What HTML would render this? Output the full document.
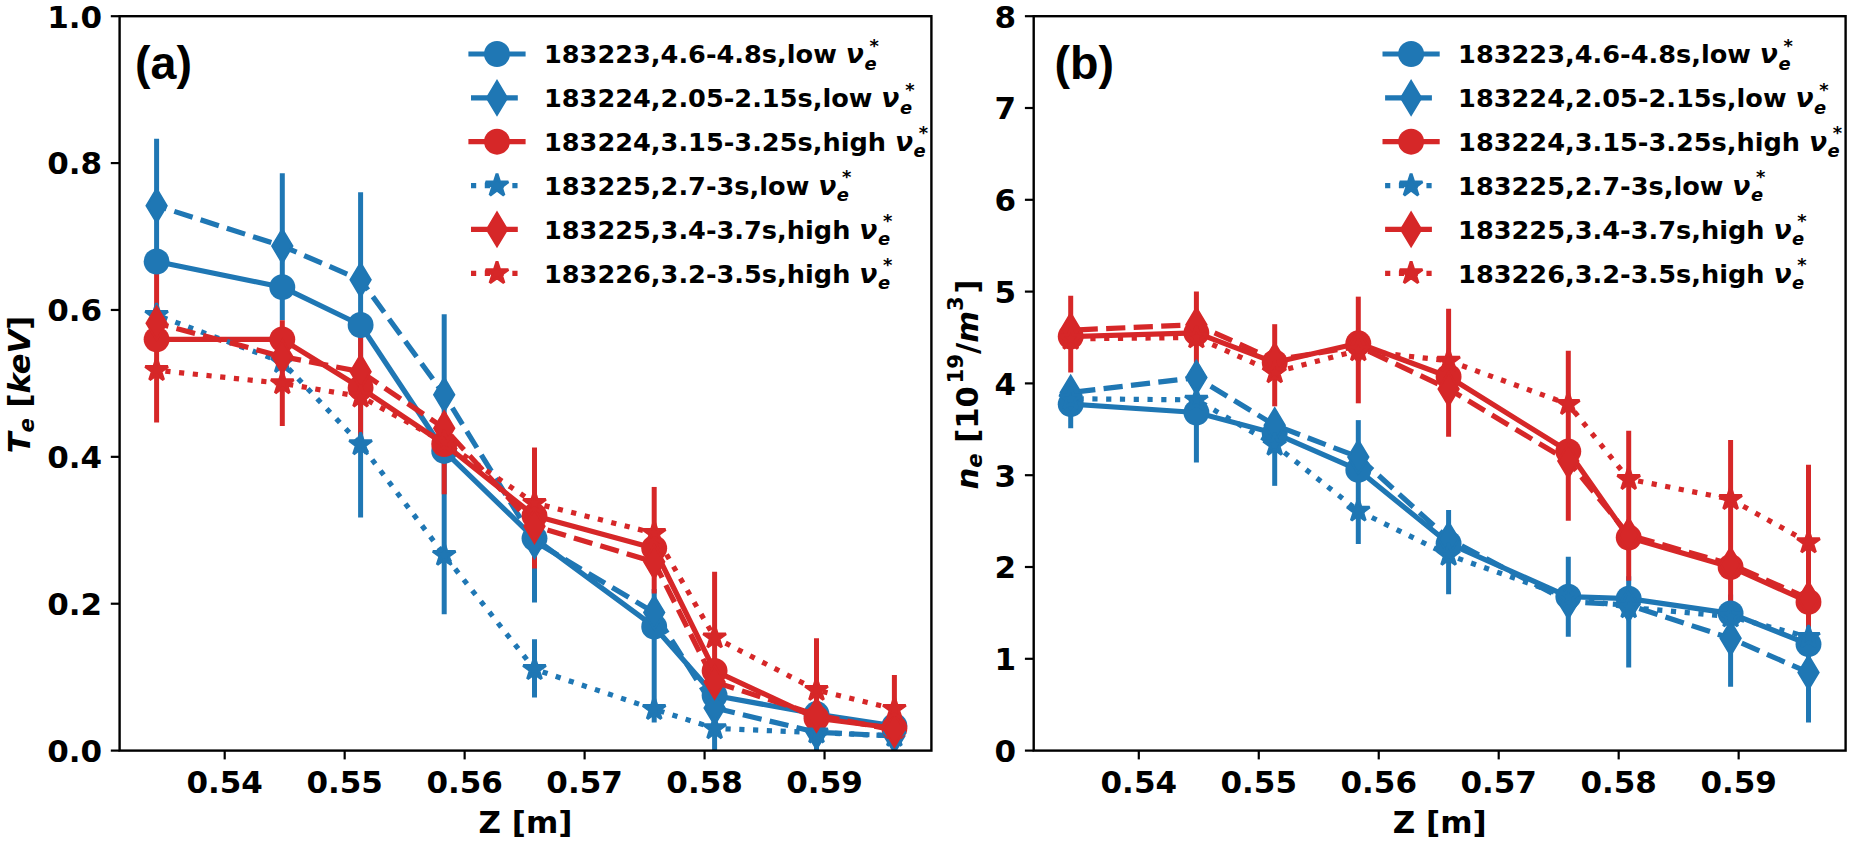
<!DOCTYPE html>
<html><head><meta charset="utf-8"><title>Te and ne profiles</title>
<style>html,body{margin:0;padding:0;background:#fff}svg{display:block}</style></head>
<body>
<svg width="1851" height="841" viewBox="0 0 1851 841">
<defs><clipPath id="cl"><rect x="119.6" y="16.2" width="811.80" height="734.40"/></clipPath><clipPath id="cr"><rect x="1033.7" y="16.2" width="811.90" height="734.40"/></clipPath></defs>
<rect width="1851" height="841" fill="#fff"/>
<g clip-path="url(#cl)">
<line x1="156.60" x2="156.60" y1="138.84" y2="272.51" stroke="#1f77b4" stroke-width="5.0"/>
<line x1="156.60" x2="156.60" y1="256.35" y2="422.47" stroke="#d62728" stroke-width="5.0"/>
<line x1="282.30" x2="282.30" y1="173.36" y2="320.24" stroke="#1f77b4" stroke-width="5.0"/>
<line x1="282.30" x2="282.30" y1="320.24" y2="426.00" stroke="#d62728" stroke-width="5.0"/>
<line x1="360.60" x2="360.60" y1="192.24" y2="517.50" stroke="#1f77b4" stroke-width="5.0"/>
<line x1="360.60" x2="360.60" y1="328.32" y2="442.15" stroke="#d62728" stroke-width="5.0"/>
<line x1="444.20" x2="444.20" y1="314.37" y2="614.22" stroke="#1f77b4" stroke-width="5.0"/>
<line x1="444.20" x2="444.20" y1="412.78" y2="494.29" stroke="#d62728" stroke-width="5.0"/>
<line x1="534.50" x2="534.50" y1="530.28" y2="602.47" stroke="#1f77b4" stroke-width="5.0"/>
<line x1="534.50" x2="534.50" y1="447.51" y2="568.47" stroke="#d62728" stroke-width="5.0"/>
<line x1="534.50" x2="534.50" y1="639.19" y2="697.50" stroke="#1f77b4" stroke-width="5.0"/>
<line x1="654.20" x2="654.20" y1="589.03" y2="722.47" stroke="#1f77b4" stroke-width="5.0"/>
<line x1="654.20" x2="654.20" y1="486.95" y2="593.44" stroke="#d62728" stroke-width="5.0"/>
<line x1="714.60" x2="714.60" y1="677.16" y2="757.94" stroke="#1f77b4" stroke-width="5.0"/>
<line x1="714.60" x2="714.60" y1="571.70" y2="684.50" stroke="#d62728" stroke-width="5.0"/>
<line x1="816.50" x2="816.50" y1="706.54" y2="757.94" stroke="#1f77b4" stroke-width="5.0"/>
<line x1="816.50" x2="816.50" y1="638.24" y2="721.22" stroke="#d62728" stroke-width="5.0"/>
<line x1="894.40" x2="894.40" y1="713.88" y2="757.94" stroke="#1f77b4" stroke-width="5.0"/>
<line x1="894.40" x2="894.40" y1="674.96" y2="728.57" stroke="#d62728" stroke-width="5.0"/>
<polyline points="156.60,261.49 282.30,287.19 360.60,325.02 444.20,450.96 534.50,538.36 654.20,626.71 714.60,695.52 816.50,714.03 894.40,725.85" fill="none" stroke="#1f77b4" stroke-width="5.2" stroke-linejoin="round" stroke-linecap="square"/>
<circle cx="156.60" cy="261.49" r="12.94" fill="#1f77b4"/>
<circle cx="282.30" cy="287.19" r="12.94" fill="#1f77b4"/>
<circle cx="360.60" cy="325.02" r="12.94" fill="#1f77b4"/>
<circle cx="444.20" cy="450.96" r="12.94" fill="#1f77b4"/>
<circle cx="534.50" cy="538.36" r="12.94" fill="#1f77b4"/>
<circle cx="654.20" cy="626.71" r="12.94" fill="#1f77b4"/>
<circle cx="714.60" cy="695.52" r="12.94" fill="#1f77b4"/>
<circle cx="816.50" cy="714.03" r="12.94" fill="#1f77b4"/>
<circle cx="894.40" cy="725.85" r="12.94" fill="#1f77b4"/>
<line x1="156.60" y1="205.68" x2="282.30" y2="246.07" stroke="#1f77b4" stroke-width="5.2" stroke-dasharray="19.24 8.32" stroke-dashoffset="8.96"/>
<line x1="282.30" y1="246.07" x2="360.60" y2="279.85" stroke="#1f77b4" stroke-width="5.2" stroke-dasharray="19.24 8.32" stroke-dashoffset="141.49"/>
<line x1="360.60" y1="279.85" x2="444.20" y2="394.64" stroke="#1f77b4" stroke-width="5.2" stroke-dasharray="19.24 8.32" stroke-dashoffset="227.27"/>
<line x1="444.20" y1="394.64" x2="534.50" y2="541.30" stroke="#1f77b4" stroke-width="5.2" stroke-dasharray="19.24 8.32" stroke-dashoffset="370.27"/>
<line x1="534.50" y1="541.30" x2="654.20" y2="612.53" stroke="#1f77b4" stroke-width="5.2" stroke-dasharray="19.24 8.32" stroke-dashoffset="543.50"/>
<line x1="654.20" y1="612.53" x2="714.60" y2="708.00" stroke="#1f77b4" stroke-width="5.2" stroke-dasharray="19.24 8.32" stroke-dashoffset="683.79"/>
<line x1="714.60" y1="708.00" x2="816.50" y2="732.24" stroke="#1f77b4" stroke-width="5.2" stroke-dasharray="19.24 8.32" stroke-dashoffset="797.77"/>
<line x1="816.50" y1="732.24" x2="894.40" y2="735.91" stroke="#1f77b4" stroke-width="5.2" stroke-dasharray="19.24 8.32" stroke-dashoffset="903.21"/>
<polygon points="156.60,188.85 166.70,205.68 156.60,222.50 146.50,205.68" fill="#1f77b4" stroke="#1f77b4" stroke-width="2.08" stroke-linejoin="miter" stroke-miterlimit="10"/>
<polygon points="282.30,229.24 292.40,246.07 282.30,262.90 272.20,246.07" fill="#1f77b4" stroke="#1f77b4" stroke-width="2.08" stroke-linejoin="miter" stroke-miterlimit="10"/>
<polygon points="360.60,263.02 370.70,279.85 360.60,296.68 350.50,279.85" fill="#1f77b4" stroke="#1f77b4" stroke-width="2.08" stroke-linejoin="miter" stroke-miterlimit="10"/>
<polygon points="444.20,377.81 454.30,394.64 444.20,411.47 434.10,394.64" fill="#1f77b4" stroke="#1f77b4" stroke-width="2.08" stroke-linejoin="miter" stroke-miterlimit="10"/>
<polygon points="534.50,524.47 544.60,541.30 534.50,558.13 524.40,541.30" fill="#1f77b4" stroke="#1f77b4" stroke-width="2.08" stroke-linejoin="miter" stroke-miterlimit="10"/>
<polygon points="654.20,595.70 664.30,612.53 654.20,629.36 644.10,612.53" fill="#1f77b4" stroke="#1f77b4" stroke-width="2.08" stroke-linejoin="miter" stroke-miterlimit="10"/>
<polygon points="714.60,691.18 724.70,708.00 714.60,724.83 704.50,708.00" fill="#1f77b4" stroke="#1f77b4" stroke-width="2.08" stroke-linejoin="miter" stroke-miterlimit="10"/>
<polygon points="816.50,715.41 826.60,732.24 816.50,749.07 806.40,732.24" fill="#1f77b4" stroke="#1f77b4" stroke-width="2.08" stroke-linejoin="miter" stroke-miterlimit="10"/>
<polygon points="894.40,719.08 904.50,735.91 894.40,752.74 884.30,735.91" fill="#1f77b4" stroke="#1f77b4" stroke-width="2.08" stroke-linejoin="miter" stroke-miterlimit="10"/>
<polyline points="156.60,339.34 282.30,339.34 360.60,387.81 444.20,443.99 534.50,515.81 654.20,548.27 714.60,670.84 816.50,718.29 894.40,728.20" fill="none" stroke="#d62728" stroke-width="5.2" stroke-linejoin="round" stroke-linecap="square"/>
<circle cx="156.60" cy="339.34" r="12.94" fill="#d62728"/>
<circle cx="282.30" cy="339.34" r="12.94" fill="#d62728"/>
<circle cx="360.60" cy="387.81" r="12.94" fill="#d62728"/>
<circle cx="444.20" cy="443.99" r="12.94" fill="#d62728"/>
<circle cx="534.50" cy="515.81" r="12.94" fill="#d62728"/>
<circle cx="654.20" cy="548.27" r="12.94" fill="#d62728"/>
<circle cx="714.60" cy="670.84" r="12.94" fill="#d62728"/>
<circle cx="816.50" cy="718.29" r="12.94" fill="#d62728"/>
<circle cx="894.40" cy="728.20" r="12.94" fill="#d62728"/>
<line x1="156.60" y1="315.10" x2="282.30" y2="362.10" stroke="#1f77b4" stroke-width="5.2" stroke-dasharray="5.20 8.58" stroke-dashoffset="7.60"/>
<line x1="282.30" y1="362.10" x2="360.60" y2="444.36" stroke="#1f77b4" stroke-width="5.2" stroke-dasharray="5.20 8.58" stroke-dashoffset="142.30"/>
<line x1="360.60" y1="444.36" x2="444.20" y2="555.03" stroke="#1f77b4" stroke-width="5.2" stroke-dasharray="5.20 8.58" stroke-dashoffset="256.36"/>
<line x1="444.20" y1="555.03" x2="534.50" y2="669.23" stroke="#1f77b4" stroke-width="5.2" stroke-dasharray="5.20 8.58" stroke-dashoffset="395.66"/>
<line x1="534.50" y1="669.23" x2="654.20" y2="709.18" stroke="#1f77b4" stroke-width="5.2" stroke-dasharray="5.20 8.58" stroke-dashoffset="542.65"/>
<line x1="654.20" y1="709.18" x2="714.60" y2="728.35" stroke="#1f77b4" stroke-width="5.2" stroke-dasharray="5.20 8.58" stroke-dashoffset="669.84"/>
<line x1="714.60" y1="728.35" x2="816.50" y2="732.61" stroke="#1f77b4" stroke-width="5.2" stroke-dasharray="5.20 8.58" stroke-dashoffset="733.21"/>
<line x1="816.50" y1="732.61" x2="894.40" y2="735.91" stroke="#1f77b4" stroke-width="5.2" stroke-dasharray="5.20 8.58" stroke-dashoffset="835.70"/>
<polygon points="156.60,303.20 153.93,311.42 145.28,311.42 152.28,316.51 149.61,324.73 156.60,319.65 163.59,324.73 160.92,316.51 167.92,311.42 159.27,311.42" fill="#1f77b4" stroke="#1f77b4" stroke-width="2.9" stroke-linejoin="bevel"/>
<polygon points="282.30,350.20 279.63,358.43 270.98,358.43 277.98,363.51 275.31,371.73 282.30,366.65 289.29,371.73 286.62,363.51 293.62,358.43 284.97,358.43" fill="#1f77b4" stroke="#1f77b4" stroke-width="2.9" stroke-linejoin="bevel"/>
<polygon points="360.60,432.46 357.93,440.68 349.28,440.68 356.28,445.76 353.61,453.98 360.60,448.90 367.59,453.98 364.92,445.76 371.92,440.68 363.27,440.68" fill="#1f77b4" stroke="#1f77b4" stroke-width="2.9" stroke-linejoin="bevel"/>
<polygon points="444.20,543.13 441.53,551.35 432.88,551.35 439.88,556.43 437.21,564.66 444.20,559.57 451.19,564.66 448.52,556.43 455.52,551.35 446.87,551.35" fill="#1f77b4" stroke="#1f77b4" stroke-width="2.9" stroke-linejoin="bevel"/>
<polygon points="534.50,657.33 531.83,665.55 523.18,665.55 530.18,670.63 527.51,678.86 534.50,673.77 541.49,678.86 538.82,670.63 545.82,665.55 537.17,665.55" fill="#1f77b4" stroke="#1f77b4" stroke-width="2.9" stroke-linejoin="bevel"/>
<polygon points="654.20,697.28 651.53,705.50 642.88,705.50 649.88,710.58 647.21,718.81 654.20,713.73 661.19,718.81 658.52,710.58 665.52,705.50 656.87,705.50" fill="#1f77b4" stroke="#1f77b4" stroke-width="2.9" stroke-linejoin="bevel"/>
<polygon points="714.60,716.45 711.93,724.67 703.28,724.67 710.28,729.75 707.61,737.97 714.60,732.89 721.59,737.97 718.92,729.75 725.92,724.67 717.27,724.67" fill="#1f77b4" stroke="#1f77b4" stroke-width="2.9" stroke-linejoin="bevel"/>
<polygon points="816.50,720.71 813.83,728.93 805.18,728.93 812.18,734.01 809.51,742.23 816.50,737.15 823.49,742.23 820.82,734.01 827.82,728.93 819.17,728.93" fill="#1f77b4" stroke="#1f77b4" stroke-width="2.9" stroke-linejoin="bevel"/>
<polygon points="894.40,724.01 891.73,732.23 883.08,732.23 890.08,737.32 887.41,745.54 894.40,740.46 901.39,745.54 898.72,737.32 905.72,732.23 897.07,732.23" fill="#1f77b4" stroke="#1f77b4" stroke-width="2.9" stroke-linejoin="bevel"/>
<line x1="156.60" y1="323.18" x2="282.30" y2="356.59" stroke="#d62728" stroke-width="5.2" stroke-dasharray="19.24 8.32" stroke-dashoffset="7.00"/>
<line x1="282.30" y1="356.59" x2="360.60" y2="371.65" stroke="#d62728" stroke-width="5.2" stroke-dasharray="19.24 8.32" stroke-dashoffset="138.07"/>
<line x1="360.60" y1="371.65" x2="444.20" y2="428.20" stroke="#d62728" stroke-width="5.2" stroke-dasharray="19.24 8.32" stroke-dashoffset="218.80"/>
<line x1="444.20" y1="428.20" x2="534.50" y2="526.17" stroke="#d62728" stroke-width="5.2" stroke-dasharray="19.24 8.32" stroke-dashoffset="320.73"/>
<line x1="534.50" y1="526.17" x2="654.20" y2="561.86" stroke="#d62728" stroke-width="5.2" stroke-dasharray="19.24 8.32" stroke-dashoffset="454.97"/>
<line x1="654.20" y1="561.86" x2="714.60" y2="682.01" stroke="#d62728" stroke-width="5.2" stroke-dasharray="19.24 8.32" stroke-dashoffset="580.37"/>
<line x1="714.60" y1="682.01" x2="816.50" y2="714.98" stroke="#d62728" stroke-width="5.2" stroke-dasharray="19.24 8.32" stroke-dashoffset="715.35"/>
<line x1="816.50" y1="714.98" x2="894.40" y2="730.04" stroke="#d62728" stroke-width="5.2" stroke-dasharray="19.24 8.32" stroke-dashoffset="822.95"/>
<polygon points="156.60,306.35 166.70,323.18 156.60,340.01 146.50,323.18" fill="#d62728" stroke="#d62728" stroke-width="2.08" stroke-linejoin="miter" stroke-miterlimit="10"/>
<polygon points="282.30,339.77 292.40,356.59 282.30,373.42 272.20,356.59" fill="#d62728" stroke="#d62728" stroke-width="2.08" stroke-linejoin="miter" stroke-miterlimit="10"/>
<polygon points="360.60,354.82 370.70,371.65 360.60,388.48 350.50,371.65" fill="#d62728" stroke="#d62728" stroke-width="2.08" stroke-linejoin="miter" stroke-miterlimit="10"/>
<polygon points="444.20,411.37 454.30,428.20 444.20,445.03 434.10,428.20" fill="#d62728" stroke="#d62728" stroke-width="2.08" stroke-linejoin="miter" stroke-miterlimit="10"/>
<polygon points="534.50,509.34 544.60,526.17 534.50,543.00 524.40,526.17" fill="#d62728" stroke="#d62728" stroke-width="2.08" stroke-linejoin="miter" stroke-miterlimit="10"/>
<polygon points="654.20,545.03 664.30,561.86 654.20,578.69 644.10,561.86" fill="#d62728" stroke="#d62728" stroke-width="2.08" stroke-linejoin="miter" stroke-miterlimit="10"/>
<polygon points="714.60,665.18 724.70,682.01 714.60,698.84 704.50,682.01" fill="#d62728" stroke="#d62728" stroke-width="2.08" stroke-linejoin="miter" stroke-miterlimit="10"/>
<polygon points="816.50,698.15 826.60,714.98 816.50,731.81 806.40,714.98" fill="#d62728" stroke="#d62728" stroke-width="2.08" stroke-linejoin="miter" stroke-miterlimit="10"/>
<polygon points="894.40,713.21 904.50,730.04 894.40,746.87 884.30,730.04" fill="#d62728" stroke="#d62728" stroke-width="2.08" stroke-linejoin="miter" stroke-miterlimit="10"/>
<line x1="156.60" y1="370.18" x2="282.30" y2="383.40" stroke="#d62728" stroke-width="5.2" stroke-dasharray="5.20 8.58" stroke-dashoffset="5.00"/>
<line x1="282.30" y1="383.40" x2="360.60" y2="396.62" stroke="#d62728" stroke-width="5.2" stroke-dasharray="5.20 8.58" stroke-dashoffset="131.89"/>
<line x1="360.60" y1="396.62" x2="444.20" y2="442.15" stroke="#d62728" stroke-width="5.2" stroke-dasharray="5.20 8.58" stroke-dashoffset="211.80"/>
<line x1="444.20" y1="442.15" x2="534.50" y2="503.11" stroke="#d62728" stroke-width="5.2" stroke-dasharray="5.20 8.58" stroke-dashoffset="307.50"/>
<line x1="534.50" y1="503.11" x2="654.20" y2="533.22" stroke="#d62728" stroke-width="5.2" stroke-dasharray="5.20 8.58" stroke-dashoffset="416.94"/>
<line x1="654.20" y1="533.22" x2="714.60" y2="637.50" stroke="#d62728" stroke-width="5.2" stroke-dasharray="5.20 8.58" stroke-dashoffset="540.37"/>
<line x1="714.60" y1="637.50" x2="816.50" y2="690.01" stroke="#d62728" stroke-width="5.2" stroke-dasharray="5.20 8.58" stroke-dashoffset="662.89"/>
<line x1="816.50" y1="690.01" x2="894.40" y2="709.03" stroke="#d62728" stroke-width="5.2" stroke-dasharray="5.20 8.58" stroke-dashoffset="779.32"/>
<polygon points="156.60,358.28 153.93,366.50 145.28,366.50 152.28,371.59 149.61,379.81 156.60,374.73 163.59,379.81 160.92,371.59 167.92,366.50 159.27,366.50" fill="#d62728" stroke="#d62728" stroke-width="2.9" stroke-linejoin="bevel"/>
<polygon points="282.30,371.50 279.63,379.72 270.98,379.72 277.98,384.80 275.31,393.03 282.30,387.95 289.29,393.03 286.62,384.80 293.62,379.72 284.97,379.72" fill="#d62728" stroke="#d62728" stroke-width="2.9" stroke-linejoin="bevel"/>
<polygon points="360.60,384.72 357.93,392.94 349.28,392.94 356.28,398.02 353.61,406.25 360.60,401.16 367.59,406.25 364.92,398.02 371.92,392.94 363.27,392.94" fill="#d62728" stroke="#d62728" stroke-width="2.9" stroke-linejoin="bevel"/>
<polygon points="444.20,430.25 441.53,438.47 432.88,438.47 439.88,443.56 437.21,451.78 444.20,446.70 451.19,451.78 448.52,443.56 455.52,438.47 446.87,438.47" fill="#d62728" stroke="#d62728" stroke-width="2.9" stroke-linejoin="bevel"/>
<polygon points="534.50,491.21 531.83,499.43 523.18,499.43 530.18,504.51 527.51,512.73 534.50,507.65 541.49,512.73 538.82,504.51 545.82,499.43 537.17,499.43" fill="#d62728" stroke="#d62728" stroke-width="2.9" stroke-linejoin="bevel"/>
<polygon points="654.20,521.32 651.53,529.54 642.88,529.54 649.88,534.62 647.21,542.84 654.20,537.76 661.19,542.84 658.52,534.62 665.52,529.54 656.87,529.54" fill="#d62728" stroke="#d62728" stroke-width="2.9" stroke-linejoin="bevel"/>
<polygon points="714.60,625.60 711.93,633.83 703.28,633.83 710.28,638.91 707.61,647.13 714.60,642.05 721.59,647.13 718.92,638.91 725.92,633.83 717.27,633.83" fill="#d62728" stroke="#d62728" stroke-width="2.9" stroke-linejoin="bevel"/>
<polygon points="816.50,678.11 813.83,686.33 805.18,686.33 812.18,691.42 809.51,699.64 816.50,694.56 823.49,699.64 820.82,691.42 827.82,686.33 819.17,686.33" fill="#d62728" stroke="#d62728" stroke-width="2.9" stroke-linejoin="bevel"/>
<polygon points="894.40,697.13 891.73,705.36 883.08,705.36 890.08,710.44 887.41,718.66 894.40,713.58 901.39,718.66 898.72,710.44 905.72,705.36 897.07,705.36" fill="#d62728" stroke="#d62728" stroke-width="2.9" stroke-linejoin="bevel"/>
</g>
<g clip-path="url(#cr)">
<line x1="1070.70" x2="1070.70" y1="383.40" y2="428.29" stroke="#1f77b4" stroke-width="5.0"/>
<line x1="1070.70" x2="1070.70" y1="295.82" y2="372.38" stroke="#d62728" stroke-width="5.0"/>
<line x1="1196.40" x2="1196.40" y1="365.04" y2="462.53" stroke="#1f77b4" stroke-width="5.0"/>
<line x1="1196.40" x2="1196.40" y1="291.60" y2="374.22" stroke="#d62728" stroke-width="5.0"/>
<line x1="1274.70" x2="1274.70" y1="410.94" y2="485.85" stroke="#1f77b4" stroke-width="5.0"/>
<line x1="1274.70" x2="1274.70" y1="324.19" y2="406.35" stroke="#d62728" stroke-width="5.0"/>
<line x1="1358.30" x2="1358.30" y1="420.12" y2="544.05" stroke="#1f77b4" stroke-width="5.0"/>
<line x1="1358.30" x2="1358.30" y1="296.65" y2="403.32" stroke="#d62728" stroke-width="5.0"/>
<line x1="1448.60" x2="1448.60" y1="510.08" y2="594.17" stroke="#1f77b4" stroke-width="5.0"/>
<line x1="1448.60" x2="1448.60" y1="308.67" y2="436.64" stroke="#d62728" stroke-width="5.0"/>
<line x1="1568.30" x2="1568.30" y1="556.63" y2="636.68" stroke="#1f77b4" stroke-width="5.0"/>
<line x1="1568.30" x2="1568.30" y1="350.81" y2="520.82" stroke="#d62728" stroke-width="5.0"/>
<line x1="1628.70" x2="1628.70" y1="576.18" y2="667.52" stroke="#1f77b4" stroke-width="5.0"/>
<line x1="1628.70" x2="1628.70" y1="430.86" y2="580.77" stroke="#d62728" stroke-width="5.0"/>
<line x1="1730.60" x2="1730.60" y1="594.54" y2="686.71" stroke="#1f77b4" stroke-width="5.0"/>
<line x1="1730.60" x2="1730.60" y1="440.04" y2="600.97" stroke="#d62728" stroke-width="5.0"/>
<line x1="1808.50" x2="1808.50" y1="622.08" y2="722.51" stroke="#1f77b4" stroke-width="5.0"/>
<line x1="1808.50" x2="1808.50" y1="464.64" y2="626.67" stroke="#d62728" stroke-width="5.0"/>
<polyline points="1070.70,404.15 1196.40,412.50 1274.70,433.34 1358.30,469.97 1448.60,543.32 1568.30,596.65 1628.70,598.67 1730.60,613.36 1808.50,644.20" fill="none" stroke="#1f77b4" stroke-width="5.2" stroke-linejoin="round" stroke-linecap="square"/>
<circle cx="1070.70" cy="404.15" r="12.94" fill="#1f77b4"/>
<circle cx="1196.40" cy="412.50" r="12.94" fill="#1f77b4"/>
<circle cx="1274.70" cy="433.34" r="12.94" fill="#1f77b4"/>
<circle cx="1358.30" cy="469.97" r="12.94" fill="#1f77b4"/>
<circle cx="1448.60" cy="543.32" r="12.94" fill="#1f77b4"/>
<circle cx="1568.30" cy="596.65" r="12.94" fill="#1f77b4"/>
<circle cx="1628.70" cy="598.67" r="12.94" fill="#1f77b4"/>
<circle cx="1730.60" cy="613.36" r="12.94" fill="#1f77b4"/>
<circle cx="1808.50" cy="644.20" r="12.94" fill="#1f77b4"/>
<line x1="1070.70" y1="392.58" x2="1196.40" y2="377.52" stroke="#1f77b4" stroke-width="5.2" stroke-dasharray="19.24 8.32" stroke-dashoffset="22.00"/>
<line x1="1196.40" y1="377.52" x2="1274.70" y2="425.17" stroke="#1f77b4" stroke-width="5.2" stroke-dasharray="19.24 8.32" stroke-dashoffset="148.60"/>
<line x1="1274.70" y1="425.17" x2="1358.30" y2="457.02" stroke="#1f77b4" stroke-width="5.2" stroke-dasharray="19.24 8.32" stroke-dashoffset="240.25"/>
<line x1="1358.30" y1="457.02" x2="1448.60" y2="539.00" stroke="#1f77b4" stroke-width="5.2" stroke-dasharray="19.24 8.32" stroke-dashoffset="330.72"/>
<line x1="1448.60" y1="539.00" x2="1568.30" y2="601.70" stroke="#1f77b4" stroke-width="5.2" stroke-dasharray="19.24 8.32" stroke-dashoffset="453.68"/>
<line x1="1568.30" y1="601.70" x2="1628.70" y2="605.01" stroke="#1f77b4" stroke-width="5.2" stroke-dasharray="19.24 8.32" stroke-dashoffset="589.31"/>
<line x1="1628.70" y1="605.01" x2="1730.60" y2="638.33" stroke="#1f77b4" stroke-width="5.2" stroke-dasharray="19.24 8.32" stroke-dashoffset="650.30"/>
<line x1="1730.60" y1="638.33" x2="1808.50" y2="672.48" stroke="#1f77b4" stroke-width="5.2" stroke-dasharray="19.24 8.32" stroke-dashoffset="759.51"/>
<polygon points="1070.70,375.75 1080.80,392.58 1070.70,409.41 1060.60,392.58" fill="#1f77b4" stroke="#1f77b4" stroke-width="2.08" stroke-linejoin="miter" stroke-miterlimit="10"/>
<polygon points="1196.40,360.70 1206.50,377.52 1196.40,394.35 1186.30,377.52" fill="#1f77b4" stroke="#1f77b4" stroke-width="2.08" stroke-linejoin="miter" stroke-miterlimit="10"/>
<polygon points="1274.70,408.34 1284.80,425.17 1274.70,442.00 1264.60,425.17" fill="#1f77b4" stroke="#1f77b4" stroke-width="2.08" stroke-linejoin="miter" stroke-miterlimit="10"/>
<polygon points="1358.30,440.19 1368.40,457.02 1358.30,473.85 1348.20,457.02" fill="#1f77b4" stroke="#1f77b4" stroke-width="2.08" stroke-linejoin="miter" stroke-miterlimit="10"/>
<polygon points="1448.60,522.17 1458.70,539.00 1448.60,555.83 1438.50,539.00" fill="#1f77b4" stroke="#1f77b4" stroke-width="2.08" stroke-linejoin="miter" stroke-miterlimit="10"/>
<polygon points="1568.30,584.87 1578.40,601.70 1568.30,618.53 1558.20,601.70" fill="#1f77b4" stroke="#1f77b4" stroke-width="2.08" stroke-linejoin="miter" stroke-miterlimit="10"/>
<polygon points="1628.70,588.18 1638.80,605.01 1628.70,621.83 1618.60,605.01" fill="#1f77b4" stroke="#1f77b4" stroke-width="2.08" stroke-linejoin="miter" stroke-miterlimit="10"/>
<polygon points="1730.60,621.50 1740.70,638.33 1730.60,655.16 1720.50,638.33" fill="#1f77b4" stroke="#1f77b4" stroke-width="2.08" stroke-linejoin="miter" stroke-miterlimit="10"/>
<polygon points="1808.50,655.65 1818.60,672.48 1808.50,689.31 1798.40,672.48" fill="#1f77b4" stroke="#1f77b4" stroke-width="2.08" stroke-linejoin="miter" stroke-miterlimit="10"/>
<polyline points="1070.70,336.58 1196.40,332.91 1274.70,362.47 1358.30,343.28 1448.60,376.70 1568.30,451.33 1628.70,537.53 1730.60,567.00 1808.50,601.88" fill="none" stroke="#d62728" stroke-width="5.2" stroke-linejoin="round" stroke-linecap="square"/>
<circle cx="1070.70" cy="336.58" r="12.94" fill="#d62728"/>
<circle cx="1196.40" cy="332.91" r="12.94" fill="#d62728"/>
<circle cx="1274.70" cy="362.47" r="12.94" fill="#d62728"/>
<circle cx="1358.30" cy="343.28" r="12.94" fill="#d62728"/>
<circle cx="1448.60" cy="376.70" r="12.94" fill="#d62728"/>
<circle cx="1568.30" cy="451.33" r="12.94" fill="#d62728"/>
<circle cx="1628.70" cy="537.53" r="12.94" fill="#d62728"/>
<circle cx="1730.60" cy="567.00" r="12.94" fill="#d62728"/>
<circle cx="1808.50" cy="601.88" r="12.94" fill="#d62728"/>
<line x1="1070.70" y1="398.73" x2="1196.40" y2="399.92" stroke="#1f77b4" stroke-width="5.2" stroke-dasharray="5.20 8.58" stroke-dashoffset="5.90"/>
<line x1="1196.40" y1="399.92" x2="1274.70" y2="444.91" stroke="#1f77b4" stroke-width="5.2" stroke-dasharray="5.20 8.58" stroke-dashoffset="131.61"/>
<line x1="1274.70" y1="444.91" x2="1358.30" y2="510.82" stroke="#1f77b4" stroke-width="5.2" stroke-dasharray="5.20 8.58" stroke-dashoffset="221.91"/>
<line x1="1358.30" y1="510.82" x2="1448.60" y2="555.07" stroke="#1f77b4" stroke-width="5.2" stroke-dasharray="5.20 8.58" stroke-dashoffset="329.37"/>
<line x1="1448.60" y1="555.07" x2="1568.30" y2="597.11" stroke="#1f77b4" stroke-width="5.2" stroke-dasharray="5.20 8.58" stroke-dashoffset="430.92"/>
<line x1="1568.30" y1="597.11" x2="1628.70" y2="607.39" stroke="#1f77b4" stroke-width="5.2" stroke-dasharray="5.20 8.58" stroke-dashoffset="557.79"/>
<line x1="1628.70" y1="607.39" x2="1730.60" y2="616.57" stroke="#1f77b4" stroke-width="5.2" stroke-dasharray="5.20 8.58" stroke-dashoffset="619.06"/>
<line x1="1730.60" y1="616.57" x2="1808.50" y2="637.04" stroke="#1f77b4" stroke-width="5.2" stroke-dasharray="5.20 8.58" stroke-dashoffset="721.37"/>
<polygon points="1070.70,386.83 1068.03,395.05 1059.38,395.05 1066.38,400.14 1063.71,408.36 1070.70,403.28 1077.69,408.36 1075.02,400.14 1082.02,395.05 1073.37,395.05" fill="#1f77b4" stroke="#1f77b4" stroke-width="2.9" stroke-linejoin="bevel"/>
<polygon points="1196.40,388.02 1193.73,396.25 1185.08,396.25 1192.08,401.33 1189.41,409.55 1196.40,404.47 1203.39,409.55 1200.72,401.33 1207.72,396.25 1199.07,396.25" fill="#1f77b4" stroke="#1f77b4" stroke-width="2.9" stroke-linejoin="bevel"/>
<polygon points="1274.70,433.01 1272.03,441.23 1263.38,441.23 1270.38,446.31 1267.71,454.53 1274.70,449.45 1281.69,454.53 1279.02,446.31 1286.02,441.23 1277.37,441.23" fill="#1f77b4" stroke="#1f77b4" stroke-width="2.9" stroke-linejoin="bevel"/>
<polygon points="1358.30,498.92 1355.63,507.14 1346.98,507.14 1353.98,512.22 1351.31,520.45 1358.30,515.36 1365.29,520.45 1362.62,512.22 1369.62,507.14 1360.97,507.14" fill="#1f77b4" stroke="#1f77b4" stroke-width="2.9" stroke-linejoin="bevel"/>
<polygon points="1448.60,543.17 1445.93,551.39 1437.28,551.39 1444.28,556.47 1441.61,564.69 1448.60,559.61 1455.59,564.69 1452.92,556.47 1459.92,551.39 1451.27,551.39" fill="#1f77b4" stroke="#1f77b4" stroke-width="2.9" stroke-linejoin="bevel"/>
<polygon points="1568.30,585.21 1565.63,593.43 1556.98,593.43 1563.98,598.52 1561.31,606.74 1568.30,601.66 1575.29,606.74 1572.62,598.52 1579.62,593.43 1570.97,593.43" fill="#1f77b4" stroke="#1f77b4" stroke-width="2.9" stroke-linejoin="bevel"/>
<polygon points="1628.70,595.49 1626.03,603.71 1617.38,603.71 1624.38,608.80 1621.71,617.02 1628.70,611.94 1635.69,617.02 1633.02,608.80 1640.02,603.71 1631.37,603.71" fill="#1f77b4" stroke="#1f77b4" stroke-width="2.9" stroke-linejoin="bevel"/>
<polygon points="1730.60,604.67 1727.93,612.89 1719.28,612.89 1726.28,617.98 1723.61,626.20 1730.60,621.12 1737.59,626.20 1734.92,617.98 1741.92,612.89 1733.27,612.89" fill="#1f77b4" stroke="#1f77b4" stroke-width="2.9" stroke-linejoin="bevel"/>
<polygon points="1808.50,625.14 1805.83,633.37 1797.18,633.37 1804.18,638.45 1801.51,646.67 1808.50,641.59 1815.49,646.67 1812.82,638.45 1819.82,633.37 1811.17,633.37" fill="#1f77b4" stroke="#1f77b4" stroke-width="2.9" stroke-linejoin="bevel"/>
<line x1="1070.70" y1="330.16" x2="1196.40" y2="324.65" stroke="#d62728" stroke-width="5.2" stroke-dasharray="19.24 8.32" stroke-dashoffset="19.66"/>
<line x1="1196.40" y1="324.65" x2="1274.70" y2="359.99" stroke="#d62728" stroke-width="5.2" stroke-dasharray="19.24 8.32" stroke-dashoffset="145.48"/>
<line x1="1274.70" y1="359.99" x2="1358.30" y2="346.31" stroke="#d62728" stroke-width="5.2" stroke-dasharray="19.24 8.32" stroke-dashoffset="231.39"/>
<line x1="1358.30" y1="346.31" x2="1448.60" y2="388.91" stroke="#d62728" stroke-width="5.2" stroke-dasharray="19.24 8.32" stroke-dashoffset="317.10"/>
<line x1="1448.60" y1="388.91" x2="1568.30" y2="460.97" stroke="#d62728" stroke-width="5.2" stroke-dasharray="19.24 8.32" stroke-dashoffset="417.94"/>
<line x1="1568.30" y1="460.97" x2="1628.70" y2="534.96" stroke="#d62728" stroke-width="5.2" stroke-dasharray="19.24 8.32" stroke-dashoffset="558.16"/>
<line x1="1628.70" y1="534.96" x2="1730.60" y2="564.25" stroke="#d62728" stroke-width="5.2" stroke-dasharray="19.24 8.32" stroke-dashoffset="654.17"/>
<line x1="1730.60" y1="564.25" x2="1808.50" y2="598.67" stroke="#d62728" stroke-width="5.2" stroke-dasharray="19.24 8.32" stroke-dashoffset="760.70"/>
<polygon points="1070.70,313.33 1080.80,330.16 1070.70,346.99 1060.60,330.16" fill="#d62728" stroke="#d62728" stroke-width="2.08" stroke-linejoin="miter" stroke-miterlimit="10"/>
<polygon points="1196.40,307.82 1206.50,324.65 1196.40,341.48 1186.30,324.65" fill="#d62728" stroke="#d62728" stroke-width="2.08" stroke-linejoin="miter" stroke-miterlimit="10"/>
<polygon points="1274.70,343.16 1284.80,359.99 1274.70,376.82 1264.60,359.99" fill="#d62728" stroke="#d62728" stroke-width="2.08" stroke-linejoin="miter" stroke-miterlimit="10"/>
<polygon points="1358.30,329.48 1368.40,346.31 1358.30,363.14 1348.20,346.31" fill="#d62728" stroke="#d62728" stroke-width="2.08" stroke-linejoin="miter" stroke-miterlimit="10"/>
<polygon points="1448.60,372.08 1458.70,388.91 1448.60,405.74 1438.50,388.91" fill="#d62728" stroke="#d62728" stroke-width="2.08" stroke-linejoin="miter" stroke-miterlimit="10"/>
<polygon points="1568.30,444.14 1578.40,460.97 1568.30,477.80 1558.20,460.97" fill="#d62728" stroke="#d62728" stroke-width="2.08" stroke-linejoin="miter" stroke-miterlimit="10"/>
<polygon points="1628.70,518.13 1638.80,534.96 1628.70,551.79 1618.60,534.96" fill="#d62728" stroke="#d62728" stroke-width="2.08" stroke-linejoin="miter" stroke-miterlimit="10"/>
<polygon points="1730.60,547.42 1740.70,564.25 1730.60,581.08 1720.50,564.25" fill="#d62728" stroke="#d62728" stroke-width="2.08" stroke-linejoin="miter" stroke-miterlimit="10"/>
<polygon points="1808.50,581.84 1818.60,598.67 1808.50,615.50 1798.40,598.67" fill="#d62728" stroke="#d62728" stroke-width="2.08" stroke-linejoin="miter" stroke-miterlimit="10"/>
<line x1="1070.70" y1="338.88" x2="1196.40" y2="337.50" stroke="#d62728" stroke-width="5.2" stroke-dasharray="5.20 8.58" stroke-dashoffset="7.90"/>
<line x1="1196.40" y1="337.50" x2="1274.70" y2="372.38" stroke="#d62728" stroke-width="5.2" stroke-dasharray="5.20 8.58" stroke-dashoffset="134.11"/>
<line x1="1274.70" y1="372.38" x2="1358.30" y2="350.35" stroke="#d62728" stroke-width="5.2" stroke-dasharray="5.20 8.58" stroke-dashoffset="220.33"/>
<line x1="1358.30" y1="350.35" x2="1448.60" y2="360.82" stroke="#d62728" stroke-width="5.2" stroke-dasharray="5.20 8.58" stroke-dashoffset="307.28"/>
<line x1="1448.60" y1="360.82" x2="1568.30" y2="404.15" stroke="#d62728" stroke-width="5.2" stroke-dasharray="5.20 8.58" stroke-dashoffset="398.99"/>
<line x1="1568.30" y1="404.15" x2="1628.70" y2="479.15" stroke="#d62728" stroke-width="5.2" stroke-dasharray="5.20 8.58" stroke-dashoffset="527.49"/>
<line x1="1628.70" y1="479.15" x2="1730.60" y2="499.16" stroke="#d62728" stroke-width="5.2" stroke-dasharray="5.20 8.58" stroke-dashoffset="624.28"/>
<line x1="1730.60" y1="499.16" x2="1808.50" y2="542.49" stroke="#d62728" stroke-width="5.2" stroke-dasharray="5.20 8.58" stroke-dashoffset="729.63"/>
<polygon points="1070.70,326.98 1068.03,335.20 1059.38,335.20 1066.38,340.28 1063.71,348.50 1070.70,343.42 1077.69,348.50 1075.02,340.28 1082.02,335.20 1073.37,335.20" fill="#d62728" stroke="#d62728" stroke-width="2.9" stroke-linejoin="bevel"/>
<polygon points="1196.40,325.60 1193.73,333.82 1185.08,333.82 1192.08,338.90 1189.41,347.13 1196.40,342.05 1203.39,347.13 1200.72,338.90 1207.72,333.82 1199.07,333.82" fill="#d62728" stroke="#d62728" stroke-width="2.9" stroke-linejoin="bevel"/>
<polygon points="1274.70,360.48 1272.03,368.71 1263.38,368.71 1270.38,373.79 1267.71,382.01 1274.70,376.93 1281.69,382.01 1279.02,373.79 1286.02,368.71 1277.37,368.71" fill="#d62728" stroke="#d62728" stroke-width="2.9" stroke-linejoin="bevel"/>
<polygon points="1358.30,338.45 1355.63,346.67 1346.98,346.67 1353.98,351.76 1351.31,359.98 1358.30,354.90 1365.29,359.98 1362.62,351.76 1369.62,346.67 1360.97,346.67" fill="#d62728" stroke="#d62728" stroke-width="2.9" stroke-linejoin="bevel"/>
<polygon points="1448.60,348.92 1445.93,357.14 1437.28,357.14 1444.28,362.22 1441.61,370.44 1448.60,365.36 1455.59,370.44 1452.92,362.22 1459.92,357.14 1451.27,357.14" fill="#d62728" stroke="#d62728" stroke-width="2.9" stroke-linejoin="bevel"/>
<polygon points="1568.30,392.25 1565.63,400.47 1556.98,400.47 1563.98,405.55 1561.31,413.77 1568.30,408.69 1575.29,413.77 1572.62,405.55 1579.62,400.47 1570.97,400.47" fill="#d62728" stroke="#d62728" stroke-width="2.9" stroke-linejoin="bevel"/>
<polygon points="1628.70,467.25 1626.03,475.47 1617.38,475.47 1624.38,480.55 1621.71,488.77 1628.70,483.69 1635.69,488.77 1633.02,480.55 1640.02,475.47 1631.37,475.47" fill="#d62728" stroke="#d62728" stroke-width="2.9" stroke-linejoin="bevel"/>
<polygon points="1730.60,487.26 1727.93,495.48 1719.28,495.48 1726.28,500.56 1723.61,508.79 1730.60,503.71 1737.59,508.79 1734.92,500.56 1741.92,495.48 1733.27,495.48" fill="#d62728" stroke="#d62728" stroke-width="2.9" stroke-linejoin="bevel"/>
<polygon points="1808.50,530.59 1805.83,538.81 1797.18,538.81 1804.18,543.89 1801.51,552.12 1808.50,547.03 1815.49,552.12 1812.82,543.89 1819.82,538.81 1811.17,538.81" fill="#d62728" stroke="#d62728" stroke-width="2.9" stroke-linejoin="bevel"/>
</g>
<rect x="119.6" y="16.2" width="811.80" height="734.40" fill="none" stroke="#000" stroke-width="2.4"/>
<line x1="224.70" x2="224.70" y1="750.6" y2="759.40" stroke="#000" stroke-width="2.2"/>
<text x="224.70" y="793" text-anchor="middle" font-size="31" font-family="DejaVu Sans, Liberation Sans, sans-serif" font-weight="bold">0.54</text>
<line x1="344.67" x2="344.67" y1="750.6" y2="759.40" stroke="#000" stroke-width="2.2"/>
<text x="344.67" y="793" text-anchor="middle" font-size="31" font-family="DejaVu Sans, Liberation Sans, sans-serif" font-weight="bold">0.55</text>
<line x1="464.64" x2="464.64" y1="750.6" y2="759.40" stroke="#000" stroke-width="2.2"/>
<text x="464.64" y="793" text-anchor="middle" font-size="31" font-family="DejaVu Sans, Liberation Sans, sans-serif" font-weight="bold">0.56</text>
<line x1="584.61" x2="584.61" y1="750.6" y2="759.40" stroke="#000" stroke-width="2.2"/>
<text x="584.61" y="793" text-anchor="middle" font-size="31" font-family="DejaVu Sans, Liberation Sans, sans-serif" font-weight="bold">0.57</text>
<line x1="704.58" x2="704.58" y1="750.6" y2="759.40" stroke="#000" stroke-width="2.2"/>
<text x="704.58" y="793" text-anchor="middle" font-size="31" font-family="DejaVu Sans, Liberation Sans, sans-serif" font-weight="bold">0.58</text>
<line x1="824.55" x2="824.55" y1="750.6" y2="759.40" stroke="#000" stroke-width="2.2"/>
<text x="824.55" y="793" text-anchor="middle" font-size="31" font-family="DejaVu Sans, Liberation Sans, sans-serif" font-weight="bold">0.59</text>
<line x1="110.80" x2="119.6" y1="750.60" y2="750.60" stroke="#000" stroke-width="2.2"/>
<text x="102.10" y="762.00" text-anchor="end" font-size="31" font-family="DejaVu Sans, Liberation Sans, sans-serif" font-weight="bold">0.0</text>
<line x1="110.80" x2="119.6" y1="603.72" y2="603.72" stroke="#000" stroke-width="2.2"/>
<text x="102.10" y="615.12" text-anchor="end" font-size="31" font-family="DejaVu Sans, Liberation Sans, sans-serif" font-weight="bold">0.2</text>
<line x1="110.80" x2="119.6" y1="456.84" y2="456.84" stroke="#000" stroke-width="2.2"/>
<text x="102.10" y="468.24" text-anchor="end" font-size="31" font-family="DejaVu Sans, Liberation Sans, sans-serif" font-weight="bold">0.4</text>
<line x1="110.80" x2="119.6" y1="309.96" y2="309.96" stroke="#000" stroke-width="2.2"/>
<text x="102.10" y="321.36" text-anchor="end" font-size="31" font-family="DejaVu Sans, Liberation Sans, sans-serif" font-weight="bold">0.6</text>
<line x1="110.80" x2="119.6" y1="163.08" y2="163.08" stroke="#000" stroke-width="2.2"/>
<text x="102.10" y="174.48" text-anchor="end" font-size="31" font-family="DejaVu Sans, Liberation Sans, sans-serif" font-weight="bold">0.8</text>
<line x1="110.80" x2="119.6" y1="16.20" y2="16.20" stroke="#000" stroke-width="2.2"/>
<text x="102.10" y="27.60" text-anchor="end" font-size="31" font-family="DejaVu Sans, Liberation Sans, sans-serif" font-weight="bold">1.0</text>
<rect x="1033.7" y="16.2" width="811.90" height="734.40" fill="none" stroke="#000" stroke-width="2.4"/>
<line x1="1138.80" x2="1138.80" y1="750.6" y2="759.40" stroke="#000" stroke-width="2.2"/>
<text x="1138.80" y="793" text-anchor="middle" font-size="31" font-family="DejaVu Sans, Liberation Sans, sans-serif" font-weight="bold">0.54</text>
<line x1="1258.77" x2="1258.77" y1="750.6" y2="759.40" stroke="#000" stroke-width="2.2"/>
<text x="1258.77" y="793" text-anchor="middle" font-size="31" font-family="DejaVu Sans, Liberation Sans, sans-serif" font-weight="bold">0.55</text>
<line x1="1378.74" x2="1378.74" y1="750.6" y2="759.40" stroke="#000" stroke-width="2.2"/>
<text x="1378.74" y="793" text-anchor="middle" font-size="31" font-family="DejaVu Sans, Liberation Sans, sans-serif" font-weight="bold">0.56</text>
<line x1="1498.71" x2="1498.71" y1="750.6" y2="759.40" stroke="#000" stroke-width="2.2"/>
<text x="1498.71" y="793" text-anchor="middle" font-size="31" font-family="DejaVu Sans, Liberation Sans, sans-serif" font-weight="bold">0.57</text>
<line x1="1618.68" x2="1618.68" y1="750.6" y2="759.40" stroke="#000" stroke-width="2.2"/>
<text x="1618.68" y="793" text-anchor="middle" font-size="31" font-family="DejaVu Sans, Liberation Sans, sans-serif" font-weight="bold">0.58</text>
<line x1="1738.65" x2="1738.65" y1="750.6" y2="759.40" stroke="#000" stroke-width="2.2"/>
<text x="1738.65" y="793" text-anchor="middle" font-size="31" font-family="DejaVu Sans, Liberation Sans, sans-serif" font-weight="bold">0.59</text>
<line x1="1024.90" x2="1033.7" y1="750.60" y2="750.60" stroke="#000" stroke-width="2.2"/>
<text x="1016.20" y="762.00" text-anchor="end" font-size="31" font-family="DejaVu Sans, Liberation Sans, sans-serif" font-weight="bold">0</text>
<line x1="1024.90" x2="1033.7" y1="658.80" y2="658.80" stroke="#000" stroke-width="2.2"/>
<text x="1016.20" y="670.20" text-anchor="end" font-size="31" font-family="DejaVu Sans, Liberation Sans, sans-serif" font-weight="bold">1</text>
<line x1="1024.90" x2="1033.7" y1="567.00" y2="567.00" stroke="#000" stroke-width="2.2"/>
<text x="1016.20" y="578.40" text-anchor="end" font-size="31" font-family="DejaVu Sans, Liberation Sans, sans-serif" font-weight="bold">2</text>
<line x1="1024.90" x2="1033.7" y1="475.20" y2="475.20" stroke="#000" stroke-width="2.2"/>
<text x="1016.20" y="486.60" text-anchor="end" font-size="31" font-family="DejaVu Sans, Liberation Sans, sans-serif" font-weight="bold">3</text>
<line x1="1024.90" x2="1033.7" y1="383.40" y2="383.40" stroke="#000" stroke-width="2.2"/>
<text x="1016.20" y="394.80" text-anchor="end" font-size="31" font-family="DejaVu Sans, Liberation Sans, sans-serif" font-weight="bold">4</text>
<line x1="1024.90" x2="1033.7" y1="291.60" y2="291.60" stroke="#000" stroke-width="2.2"/>
<text x="1016.20" y="303.00" text-anchor="end" font-size="31" font-family="DejaVu Sans, Liberation Sans, sans-serif" font-weight="bold">5</text>
<line x1="1024.90" x2="1033.7" y1="199.80" y2="199.80" stroke="#000" stroke-width="2.2"/>
<text x="1016.20" y="211.20" text-anchor="end" font-size="31" font-family="DejaVu Sans, Liberation Sans, sans-serif" font-weight="bold">6</text>
<line x1="1024.90" x2="1033.7" y1="108.00" y2="108.00" stroke="#000" stroke-width="2.2"/>
<text x="1016.20" y="119.40" text-anchor="end" font-size="31" font-family="DejaVu Sans, Liberation Sans, sans-serif" font-weight="bold">7</text>
<line x1="1024.90" x2="1033.7" y1="16.20" y2="16.20" stroke="#000" stroke-width="2.2"/>
<text x="1016.20" y="27.60" text-anchor="end" font-size="31" font-family="DejaVu Sans, Liberation Sans, sans-serif" font-weight="bold">8</text>
<line x1="471" x2="523" y1="54" y2="54" stroke="#1f77b4" stroke-width="5.2" stroke-linecap="square"/>
<circle cx="497.00" cy="54.00" r="12.94" fill="#1f77b4"/>
<text x="544" y="63.2" font-size="25.6" font-family="DejaVu Sans, Liberation Sans, sans-serif" font-weight="bold" xml:space="preserve">183223,4.6-4.8s,low <tspan font-style="italic" font-size="26.6">ν</tspan><tspan font-style="italic" font-size="17.9" dy="6.5" dx="0.5">e</tspan><tspan font-size="17.9" dy="-18" dx="-7">*</tspan></text>
<line x1="471" x2="523" y1="97.9" y2="97.9" stroke="#1f77b4" stroke-width="5.2" stroke-dasharray="19.24 8.32"/>
<polygon points="497.00,81.07 507.10,97.90 497.00,114.73 486.90,97.90" fill="#1f77b4" stroke="#1f77b4" stroke-width="2.08" stroke-linejoin="miter" stroke-miterlimit="10"/>
<text x="544" y="107.1" font-size="25.6" font-family="DejaVu Sans, Liberation Sans, sans-serif" font-weight="bold" xml:space="preserve">183224,2.05-2.15s,low <tspan font-style="italic" font-size="26.6">ν</tspan><tspan font-style="italic" font-size="17.9" dy="6.5" dx="0.5">e</tspan><tspan font-size="17.9" dy="-18" dx="-7">*</tspan></text>
<line x1="471" x2="523" y1="141.7" y2="141.7" stroke="#d62728" stroke-width="5.2" stroke-linecap="square"/>
<circle cx="497.00" cy="141.70" r="12.94" fill="#d62728"/>
<text x="544" y="150.9" font-size="25.6" font-family="DejaVu Sans, Liberation Sans, sans-serif" font-weight="bold" xml:space="preserve">183224,3.15-3.25s,high <tspan font-style="italic" font-size="26.6">ν</tspan><tspan font-style="italic" font-size="17.9" dy="6.5" dx="0.5">e</tspan><tspan font-size="17.9" dy="-18" dx="-7">*</tspan></text>
<line x1="471" x2="523" y1="185.6" y2="185.6" stroke="#1f77b4" stroke-width="5.2" stroke-dasharray="5.20 8.58"/>
<polygon points="497.00,173.70 494.33,181.92 485.68,181.92 492.68,187.00 490.01,195.23 497.00,190.15 503.99,195.23 501.32,187.00 508.32,181.92 499.67,181.92" fill="#1f77b4" stroke="#1f77b4" stroke-width="2.9" stroke-linejoin="bevel"/>
<text x="544" y="194.8" font-size="25.6" font-family="DejaVu Sans, Liberation Sans, sans-serif" font-weight="bold" xml:space="preserve">183225,2.7-3s,low <tspan font-style="italic" font-size="26.6">ν</tspan><tspan font-style="italic" font-size="17.9" dy="6.5" dx="0.5">e</tspan><tspan font-size="17.9" dy="-18" dx="-7">*</tspan></text>
<line x1="471" x2="523" y1="229.4" y2="229.4" stroke="#d62728" stroke-width="5.2" stroke-dasharray="19.24 8.32"/>
<polygon points="497.00,212.57 507.10,229.40 497.00,246.23 486.90,229.40" fill="#d62728" stroke="#d62728" stroke-width="2.08" stroke-linejoin="miter" stroke-miterlimit="10"/>
<text x="544" y="238.6" font-size="25.6" font-family="DejaVu Sans, Liberation Sans, sans-serif" font-weight="bold" xml:space="preserve">183225,3.4-3.7s,high <tspan font-style="italic" font-size="26.6">ν</tspan><tspan font-style="italic" font-size="17.9" dy="6.5" dx="0.5">e</tspan><tspan font-size="17.9" dy="-18" dx="-7">*</tspan></text>
<line x1="471" x2="523" y1="273.3" y2="273.3" stroke="#d62728" stroke-width="5.2" stroke-dasharray="5.20 8.58"/>
<polygon points="497.00,261.40 494.33,269.62 485.68,269.62 492.68,274.70 490.01,282.93 497.00,277.85 503.99,282.93 501.32,274.70 508.32,269.62 499.67,269.62" fill="#d62728" stroke="#d62728" stroke-width="2.9" stroke-linejoin="bevel"/>
<text x="544" y="282.5" font-size="25.6" font-family="DejaVu Sans, Liberation Sans, sans-serif" font-weight="bold" xml:space="preserve">183226,3.2-3.5s,high <tspan font-style="italic" font-size="26.6">ν</tspan><tspan font-style="italic" font-size="17.9" dy="6.5" dx="0.5">e</tspan><tspan font-size="17.9" dy="-18" dx="-7">*</tspan></text>
<line x1="1385.1" x2="1437.1" y1="54" y2="54" stroke="#1f77b4" stroke-width="5.2" stroke-linecap="square"/>
<circle cx="1411.10" cy="54.00" r="12.94" fill="#1f77b4"/>
<text x="1458.1" y="63.2" font-size="25.6" font-family="DejaVu Sans, Liberation Sans, sans-serif" font-weight="bold" xml:space="preserve">183223,4.6-4.8s,low <tspan font-style="italic" font-size="26.6">ν</tspan><tspan font-style="italic" font-size="17.9" dy="6.5" dx="0.5">e</tspan><tspan font-size="17.9" dy="-18" dx="-7">*</tspan></text>
<line x1="1385.1" x2="1437.1" y1="97.9" y2="97.9" stroke="#1f77b4" stroke-width="5.2" stroke-dasharray="19.24 8.32"/>
<polygon points="1411.10,81.07 1421.20,97.90 1411.10,114.73 1401.00,97.90" fill="#1f77b4" stroke="#1f77b4" stroke-width="2.08" stroke-linejoin="miter" stroke-miterlimit="10"/>
<text x="1458.1" y="107.1" font-size="25.6" font-family="DejaVu Sans, Liberation Sans, sans-serif" font-weight="bold" xml:space="preserve">183224,2.05-2.15s,low <tspan font-style="italic" font-size="26.6">ν</tspan><tspan font-style="italic" font-size="17.9" dy="6.5" dx="0.5">e</tspan><tspan font-size="17.9" dy="-18" dx="-7">*</tspan></text>
<line x1="1385.1" x2="1437.1" y1="141.7" y2="141.7" stroke="#d62728" stroke-width="5.2" stroke-linecap="square"/>
<circle cx="1411.10" cy="141.70" r="12.94" fill="#d62728"/>
<text x="1458.1" y="150.9" font-size="25.6" font-family="DejaVu Sans, Liberation Sans, sans-serif" font-weight="bold" xml:space="preserve">183224,3.15-3.25s,high <tspan font-style="italic" font-size="26.6">ν</tspan><tspan font-style="italic" font-size="17.9" dy="6.5" dx="0.5">e</tspan><tspan font-size="17.9" dy="-18" dx="-7">*</tspan></text>
<line x1="1385.1" x2="1437.1" y1="185.6" y2="185.6" stroke="#1f77b4" stroke-width="5.2" stroke-dasharray="5.20 8.58"/>
<polygon points="1411.10,173.70 1408.43,181.92 1399.78,181.92 1406.78,187.00 1404.11,195.23 1411.10,190.15 1418.09,195.23 1415.42,187.00 1422.42,181.92 1413.77,181.92" fill="#1f77b4" stroke="#1f77b4" stroke-width="2.9" stroke-linejoin="bevel"/>
<text x="1458.1" y="194.8" font-size="25.6" font-family="DejaVu Sans, Liberation Sans, sans-serif" font-weight="bold" xml:space="preserve">183225,2.7-3s,low <tspan font-style="italic" font-size="26.6">ν</tspan><tspan font-style="italic" font-size="17.9" dy="6.5" dx="0.5">e</tspan><tspan font-size="17.9" dy="-18" dx="-7">*</tspan></text>
<line x1="1385.1" x2="1437.1" y1="229.4" y2="229.4" stroke="#d62728" stroke-width="5.2" stroke-dasharray="19.24 8.32"/>
<polygon points="1411.10,212.57 1421.20,229.40 1411.10,246.23 1401.00,229.40" fill="#d62728" stroke="#d62728" stroke-width="2.08" stroke-linejoin="miter" stroke-miterlimit="10"/>
<text x="1458.1" y="238.6" font-size="25.6" font-family="DejaVu Sans, Liberation Sans, sans-serif" font-weight="bold" xml:space="preserve">183225,3.4-3.7s,high <tspan font-style="italic" font-size="26.6">ν</tspan><tspan font-style="italic" font-size="17.9" dy="6.5" dx="0.5">e</tspan><tspan font-size="17.9" dy="-18" dx="-7">*</tspan></text>
<line x1="1385.1" x2="1437.1" y1="273.3" y2="273.3" stroke="#d62728" stroke-width="5.2" stroke-dasharray="5.20 8.58"/>
<polygon points="1411.10,261.40 1408.43,269.62 1399.78,269.62 1406.78,274.70 1404.11,282.93 1411.10,277.85 1418.09,282.93 1415.42,274.70 1422.42,269.62 1413.77,269.62" fill="#d62728" stroke="#d62728" stroke-width="2.9" stroke-linejoin="bevel"/>
<text x="1458.1" y="282.5" font-size="25.6" font-family="DejaVu Sans, Liberation Sans, sans-serif" font-weight="bold" xml:space="preserve">183226,3.2-3.5s,high <tspan font-style="italic" font-size="26.6">ν</tspan><tspan font-style="italic" font-size="17.9" dy="6.5" dx="0.5">e</tspan><tspan font-size="17.9" dy="-18" dx="-7">*</tspan></text>
<text x="135" y="79" font-size="46.6" font-family="Liberation Sans, sans-serif" font-weight="bold">(a)</text>
<text x="1054.5" y="79" font-size="46.6" font-family="Liberation Sans, sans-serif" font-weight="bold">(b)</text>
<text x="525.5" y="833" text-anchor="middle" font-size="31" font-family="DejaVu Sans, Liberation Sans, sans-serif" font-weight="bold">Z [m]</text>
<text x="1439.7" y="833" text-anchor="middle" font-size="31" font-family="DejaVu Sans, Liberation Sans, sans-serif" font-weight="bold">Z [m]</text>
<text transform="translate(30.3,384.5) rotate(-90)" text-anchor="middle" font-size="30.6" font-family="DejaVu Sans, Liberation Sans, sans-serif" font-weight="bold" xml:space="preserve"><tspan font-style="italic">T</tspan><tspan font-style="italic" font-size="21.2" dy="4">e</tspan><tspan dy="-4"> [</tspan><tspan font-style="italic">keV</tspan>]</text>
<text transform="translate(978,384.5) rotate(-90)" text-anchor="middle" font-size="30.6" font-family="DejaVu Sans, Liberation Sans, sans-serif" font-weight="bold" xml:space="preserve"><tspan font-style="italic">n</tspan><tspan font-style="italic" font-size="21.2" dy="4">e</tspan><tspan dy="-4"> [10</tspan><tspan font-size="21.2" dy="-15" dx="2.7">19</tspan><tspan dy="15">/</tspan><tspan font-style="italic">m</tspan><tspan font-size="21.2" dy="-15">3</tspan><tspan dy="15" dx="2.7">]</tspan></text>
</svg>
</body></html>
